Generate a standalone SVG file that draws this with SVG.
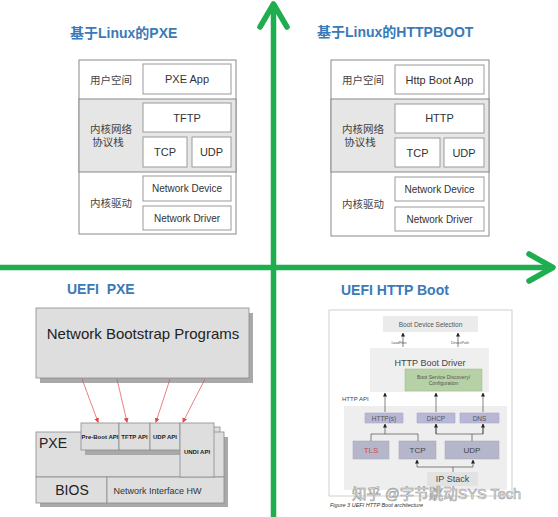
<svg xmlns="http://www.w3.org/2000/svg" width="558" height="517" viewBox="0 0 558 517">
<defs>
<style>
text{font-family:"Liberation Sans","Noto Sans CJK SC",sans-serif;fill:#333;}
.t{font-size:14px;font-weight:bold;fill:#3a7ab8;}
.cj{font-size:10.5px;fill:#444;text-anchor:middle;}
.lb{font-size:11px;fill:#333;text-anchor:middle;}
.sm{font-size:10px;fill:#333;text-anchor:middle;}
.ob{fill:#fff;stroke:#8a8a8a;stroke-width:1;}
.ib{fill:#fff;stroke:#9a9a9a;stroke-width:1;}
.gr{fill:#e6e6e6;stroke:#8a8a8a;stroke-width:1;}
.ax{fill:none;stroke:#1fae4f;stroke-width:5.5;stroke-linecap:round;stroke-linejoin:round;}
.pb{fill:#dedede;stroke:#8c8c8c;stroke-width:0.8;}
.sh{fill:#a9a9a9;}
.api{font-size:6px;font-weight:bold;fill:#222;text-anchor:middle;}
.ra{stroke:#e04a4a;stroke-width:0.7;fill:none;marker-end:url(#rh);}
.ka{stroke:#333;stroke-width:0.6;fill:none;}
.kar{stroke:#333;stroke-width:0.6;fill:none;marker-end:url(#kh);}
.lav{fill:#b8b8d6;stroke:#a0a0c4;stroke-width:0.5;}
.lav2{fill:#b6b6ca;stroke:#a4a4bc;stroke-width:0.5;}
.tx{font-size:8px;fill:#444;text-anchor:middle;}
.tx2{font-size:6.5px;fill:#555;text-anchor:middle;}
</style>
<marker id="rh" markerWidth="5" markerHeight="5" refX="4" refY="2.5" orient="auto" markerUnits="userSpaceOnUse">
<path d="M0,0 L5,2.5 L0,5 Z" fill="#e04a4a"/>
</marker>
<marker id="kh" markerWidth="4" markerHeight="4" refX="3.5" refY="2" orient="auto" markerUnits="userSpaceOnUse">
<path d="M0,0 L4,2 L0,4 Z" fill="#222"/>
</marker>
</defs>
<rect width="558" height="517" fill="#fff"/>

<!-- axes -->
<g id="axes">
<line class="ax" x1="273.5" y1="517" x2="273.5" y2="5"/>
<polyline class="ax" points="260,27 273.5,4 287,27"/>
<line class="ax" x1="0" y1="267.5" x2="552" y2="267.5"/>
<polyline class="ax" points="529,254 553,267.5 529,281"/>
</g>

<!-- top-left: Linux PXE -->
<g id="linux-pxe">
<text class="t" x="70" y="38">基于Linux的PXE</text>
<rect class="ob" x="79" y="60" width="157" height="174"/>
<rect class="gr" x="79" y="99" width="157" height="73"/>
<text class="cj" x="111" y="84">用户空间</text>
<text class="cj" x="111" y="133">内核网络</text>
<text class="cj" x="108" y="146">协议栈</text>
<text class="cj" x="111" y="207">内核驱动</text>
<rect class="ib" x="143" y="64" width="88" height="30"/>
<text class="lb" x="187" y="83">PXE App</text>
<rect class="ib" x="143" y="103" width="88" height="29"/>
<text class="lb" x="187" y="122">TFTP</text>
<rect class="ib" x="143" y="137" width="44" height="30"/>
<text class="lb" x="165" y="156">TCP</text>
<rect class="ib" x="192" y="137" width="39" height="30"/>
<text class="lb" x="211.5" y="156">UDP</text>
<rect class="ib" x="143" y="176" width="88" height="25"/>
<text class="sm" x="187" y="192">Network Device</text>
<rect class="ib" x="143" y="206" width="88" height="24"/>
<text class="sm" x="187" y="222">Network Driver</text>
</g>

<!-- top-right: Linux HTTPBOOT -->
<g id="linux-httpboot">
<text class="t" x="317" y="37">基于Linux的HTTPBOOT</text>
<rect class="ob" x="331" y="60" width="158" height="176"/>
<rect class="gr" x="331" y="99" width="158" height="73"/>
<text class="cj" x="363" y="84">用户空间</text>
<text class="cj" x="363" y="133">内核网络</text>
<text class="cj" x="360" y="146">协议栈</text>
<text class="cj" x="363" y="208">内核驱动</text>
<rect class="ib" x="395" y="65" width="89" height="29"/>
<text class="lb" x="439.5" y="84">Http Boot App</text>
<rect class="ib" x="395" y="104" width="89" height="29"/>
<text class="lb" x="439.5" y="122">HTTP</text>
<rect class="ib" x="395" y="138" width="45" height="29"/>
<text class="lb" x="417.5" y="157">TCP</text>
<rect class="ib" x="444" y="138" width="40" height="29"/>
<text class="lb" x="464" y="157">UDP</text>
<rect class="ib" x="395" y="177" width="89" height="24"/>
<text class="sm" x="439.5" y="193">Network Device</text>
<rect class="ib" x="395" y="207" width="89" height="24"/>
<text class="sm" x="439.5" y="223">Network Driver</text>
</g>

<!-- bottom-left: UEFI PXE -->
<g id="uefi-pxe">
<text class="t" x="67" y="294" xml:space="preserve">UEFI  PXE</text>
<rect class="sh" x="40" y="313" width="213" height="70"/>
<rect class="pb" x="36" y="308" width="213" height="70"/>
<text x="143" y="339" style="font-size:15px;fill:#222;text-anchor:middle">Network Bootstrap Programs</text>

<rect class="sh" x="40" y="437" width="188" height="70"/>
<rect class="pb" x="186" y="427" width="34" height="50"/>
<rect class="pb" x="36" y="432" width="188" height="45"/>
<text x="39" y="448" style="font-size:14px;fill:#222">PXE</text>
<rect class="pb" x="36" y="477" width="71" height="26"/>
<rect class="pb" x="107" y="477" width="117" height="26"/>
<text x="72" y="495" style="font-size:14px;fill:#222;text-anchor:middle">BIOS</text>
<text x="157.5" y="494" style="font-size:9px;fill:#333;text-anchor:middle">Network Interface HW</text>

<rect class="sh" x="85" y="427" width="99" height="28"/>
<rect class="pb" x="81" y="423" width="38" height="27"/>
<rect class="pb" x="119" y="423" width="31" height="27"/>
<rect class="pb" x="150" y="423" width="30" height="27"/>
<rect class="pb" x="180" y="423" width="34" height="54"/>
<text class="api" x="100" y="439">Pre-Boot API</text>
<text class="api" x="134.5" y="439">TFTP API</text>
<text class="api" x="165" y="439">UDP API</text>
<text class="api" x="197" y="454">UNDI API</text>
</g>

<g id="pxe-connectors">
<line class="ra" x1="82" y1="379" x2="98" y2="422"/>
<line class="ra" x1="117" y1="379" x2="127" y2="422"/>
<line class="ra" x1="170" y1="379" x2="156" y2="422"/>
<line class="ra" x1="205" y1="379" x2="183" y2="422"/>
</g>

<!-- bottom-right: UEFI HTTP Boot -->
<g id="uefi-httpboot">
<text class="t" x="341" y="295">UEFI HTTP Boot</text>
<rect x="329" y="310" width="183" height="186" fill="#fff" stroke="#c4c4c4" stroke-width="0.8"/>
<rect x="383" y="316" width="95" height="16" fill="#ebebeb"/>
<text x="430.5" y="326.5" style="font-size:6.5px;fill:#555;text-anchor:middle">Boot Device Selection</text>
<rect x="370" y="348" width="119" height="44" fill="#efefef"/>
<text x="430" y="366" style="font-size:9px;fill:#444;text-anchor:middle">HTTP Boot Driver</text>
<rect x="405" y="369" width="77" height="22" fill="#b7d1a6" stroke="#9dbb8b" stroke-width="0.5"/>
<text x="443.5" y="378.5" style="font-size:5px;fill:#555;text-anchor:middle">Boot Service Discovery/</text>
<text x="443.5" y="385" style="font-size:5px;fill:#555;text-anchor:middle">Configuration</text>
<text x="342" y="401" style="font-size:6px;fill:#444">HTTP API</text>
<text x="399" y="344" style="font-size:3.5px;fill:#555;text-anchor:middle">LoadFiles</text>
<text x="460" y="344" style="font-size:3.5px;fill:#555;text-anchor:middle">DevicePath</text>
<rect x="344" y="406" width="163" height="84" fill="#eeeeee"/>
<rect class="lav" x="365" y="413" width="38" height="10"/>
<rect class="lav" x="417" y="413" width="38" height="10"/>
<rect class="lav" x="460" y="413" width="39" height="10"/>
<text class="tx2" x="384" y="420.5">HTTP(s)</text>
<text class="tx2" x="436" y="420.5">DHCP</text>
<text class="tx2" x="479.5" y="420.5">DNS</text>
<rect class="lav2" x="353" y="441" width="36" height="18"/>
<rect class="lav2" x="399" y="441" width="37" height="18"/>
<rect class="lav2" x="445" y="441" width="54" height="18"/>
<text class="tx" x="371" y="453" style="fill:#c0504d">TLS</text>
<text class="tx" x="417.5" y="453">TCP</text>
<text class="tx" x="472" y="453">UDP</text>
<rect x="427" y="472" width="51" height="14" fill="#e2e2e2"/>
<text x="452.5" y="481.5" style="font-size:9px;fill:#444;text-anchor:middle">IP Stack</text>
<text x="330" y="507" style="font-size:5.5px;font-style:italic;fill:#333">Figure 3  UEFI HTTP Boot architecture</text>
</g>

<g id="httpboot-connectors">
<line class="kar" x1="403" y1="347" x2="403" y2="333"/>
<line class="kar" x1="458" y1="347" x2="458" y2="333"/>
<line class="kar" x1="385" y1="412" x2="385" y2="393"/>
<line class="kar" x1="436" y1="412" x2="436" y2="393"/>
<line class="kar" x1="483" y1="412" x2="483" y2="393"/>
<polyline class="ka" points="371,441 371,434 418,434 418,441"/>
<line class="kar" x1="385" y1="434" x2="385" y2="424"/>
<polyline class="ka" points="472,441 472,434"/>
<polyline class="ka" points="436,424 436,434 483,434 483,424"/>
<line class="kar" x1="436" y1="434" x2="436" y2="424"/>
<line class="kar" x1="483" y1="434" x2="483" y2="424"/>
<polyline class="ka" points="453,472 453,467"/>
<polyline class="ka" points="417,467 473,467"/>
<line class="kar" x1="417" y1="467" x2="417" y2="460"/>
<line class="kar" x1="473" y1="467" x2="473" y2="460"/>
</g>

<text x="352" y="499" style="font-size:14.5px;fill:#f3f3f3;stroke:#9a9a9a;stroke-width:0.6" xml:space="preserve">知乎 @字节跳动SYS Tech</text>
</svg>
